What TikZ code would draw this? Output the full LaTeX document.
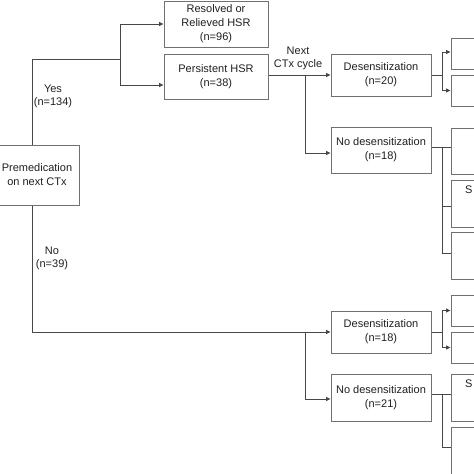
\documentclass[tikz,border=0pt]{standalone}
\usepackage{fontspec}
\setmainfont{Liberation Sans}
\usetikzlibrary{arrows.meta}
\definecolor{linegray}{HTML}{474747}
\definecolor{boxgray}{HTML}{707070}
\definecolor{textgray}{HTML}{202020}

\begin{document}
\begin{tikzpicture}[x=1pt,y=-1pt,
    box/.style={draw=boxgray,line width=1pt,fill=white,align=center,
      inner sep=0pt,text=textgray,font=\fontsize{11}{14}\selectfont},
    rbox/.style={box,minimum width=109pt},
    lbl/.style={align=center,inner sep=0pt,text=textgray,
      font=\fontsize{11}{13}\selectfont},
    wire/.style={draw=linegray,line width=1pt},
    arr/.style={wire,-{Triangle[length=4.5pt,width=4pt]}}]
  \useasboundingbox (0,0) rectangle (474,474);
  \clip (0,0) rectangle (474,474);
  % left and middle boxes
  \node[box,minimum width=84pt,minimum height=60pt] (prem) at (37,175)
    {Premedication\\on next CTx};
  \node[box,minimum width=104pt,minimum height=46pt] (res) at (216,24)
    {Resolved or\\Relieved HSR\\(n=96)};
  \node[box,minimum width=104pt,minimum height=45pt] (pers) at (216,76.5)
    {Persistent HSR\\(n=38)};
  \node[box,minimum width=100pt,minimum height=42pt] (des20) at (381,75)
    {Desensitization\\(n=20)};
  \node[box,minimum width=100pt,minimum height=46pt] (nod18) at (381,150)
    {No desensitization\\(n=18)};
  \node[box,minimum width=100pt,minimum height=42pt] (des18) at (381,332)
    {Desensitization\\(n=18)};
  \node[box,minimum width=100pt,minimum height=47pt] (nod21) at (381,397.5)
    {No desensitization\\(n=21)};
  % right column, cut off by the frame
  \node[rbox,minimum height=31pt] (r1) at (505.5,53.5) {};
  \node[rbox,minimum height=31pt] (r2) at (505.5,90.5) {};
  \node[rbox,minimum height=46pt] (r3) at (505.5,151) {};
  \node[rbox,minimum height=47pt] (r4) at (505.5,203.5) {};
  \node[rbox,minimum height=47pt] (r5) at (505.5,255.5) {};
  \node[rbox,minimum height=31pt] (r6) at (505.5,310.5) {};
  \node[rbox,minimum height=31pt] (r7) at (505.5,347.5) {};
  \node[rbox,minimum height=47pt] (r8) at (505.5,397.5) {};
  \node[rbox,minimum height=47pt] (r9) at (505.5,450.5) {};
  \node[lbl,anchor=west] (s4) at (465,190) {S};
  \node[lbl,anchor=west] (s8) at (465,384) {S};
  % labels
  \node[lbl] (yes) at (53,96.5) {Yes\\(n=134)};
  \node[lbl] (no) at (52,258) {No\\(n=39)};
  \node[lbl] (cyc) at (298,58.5) {Next\\CTx cycle};
  % connectors
  \coordinate (ys) at (120,59);
  \coordinate (nx) at (305,75);
  \coordinate (ns) at (305,332);
  \draw[wire] ([xshift=-5pt]prem.north) |- (ys);
  \draw[arr] (ys) |- (res.west);
  \draw[arr] (ys) |- ([yshift=-8.5pt]pers.west);
  \draw[arr] (pers.east |- nx) -- (des20.west);
  \draw[arr] (nx) |- ([yshift=-3pt]nod18.west);
  \draw[wire] ([xshift=-5pt]prem.south) |- (ns);
  \draw[arr] (ns) -- (des18.west);
  \draw[arr] (ns) |- ([yshift=-1.5pt]nod21.west);
  \coordinate (d20) at (442,75);
  \coordinate (n18) at (442,147);
  \coordinate (d18) at (442,332);
  \coordinate (n21) at (442,394);
  \draw[wire] (des20.east) -- (d20);
  \draw[arr] (d20) |- ([yshift=1.5pt]r1.west);
  \draw[arr] (d20) |- (r2.west);
  \draw[wire] (nod18.east |- n18) -- (r3.west |- n18);
  \draw[wire] (n18) |- ([yshift=-2.5pt]r4.west);
  \draw[wire] (n18) |- ([yshift=2.5pt]r5.west);
  \draw[wire] (des18.east) -- (d18);
  \draw[arr] (d18) |- (r6.west);
  \draw[arr] (d18) |- (r7.west);
  \draw[wire] (nod21.east |- n21) -- (r8.west |- n21);
  \draw[wire] (n21) |- ([yshift=3.5pt]r9.west);
\end{tikzpicture}
\end{document}
